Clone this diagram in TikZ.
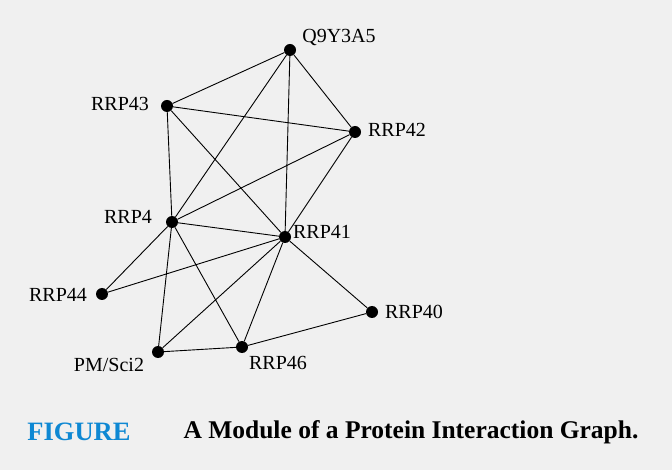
\documentclass[tikz,border=0pt]{standalone}
\usepackage{fontspec}
\setmainfont{Liberation Serif}
\begin{document}
\begin{tikzpicture}[x=1pt,y=-1pt,
  dot/.style={circle,fill=black,inner sep=0pt,minimum size=12pt},
  lbl/.style={font=\fontsize{20}{22}\selectfont},
  edge/.style={line width=0.9pt}]
\fill[gray!12] (0,0) rectangle (672,470);
\useasboundingbox (0,0) rectangle (672,470);
\node[dot] (q) at (290,50) {};
\node[dot] (r43) at (167,106) {};
\node[dot] (r42) at (355,132) {};
\node[dot] (r4) at (172,222) {};
\node[dot] (r41) at (285,237) {};
\node[dot] (r44) at (102,294) {};
\node[dot] (r40) at (372,312) {};
\node[dot] (pm) at (158,352) {};
\node[dot] (r46) at (242,347) {};
\node[lbl] (lq) at (339,38) {Q9Y3A5};
\node[lbl] (l43) at (120,104) {RRP43};
\node[lbl] (l42) at (397,130) {RRP42};
\node[lbl] (l4) at (128,217) {RRP4};
\node[lbl] (l41) at (322,232) {RRP41};
\node[lbl] (l44) at (58,295) {RRP44};
\node[lbl] (l40) at (414,312) {RRP40};
\node[lbl] (lpm) at (109,365) {PM/Sci2};
\node[lbl] (l46) at (278,363) {RRP46};
\foreach \a/\b in {q/r43,q/r42,q/r4,q/r41,r43/r42,r43/r4,r43/r41,r42/r4,r42/r41,
  r4/r41,r4/r44,r4/pm,r4/r46,r41/r44,r41/r40,r41/pm,r41/r46,r46/pm,r46/r40}
  \draw[edge] (\a) -- (\b);
\node[font=\fontsize{26.5}{28}\selectfont\bfseries,text=cyan!70!blue] (fig) at (79,432) {FIGURE};
\node[font=\fontsize{25.5}{28}\selectfont\bfseries] (cap) at (411,432) {A Module of a Protein Interaction Graph.};
\end{tikzpicture}
\end{document}
